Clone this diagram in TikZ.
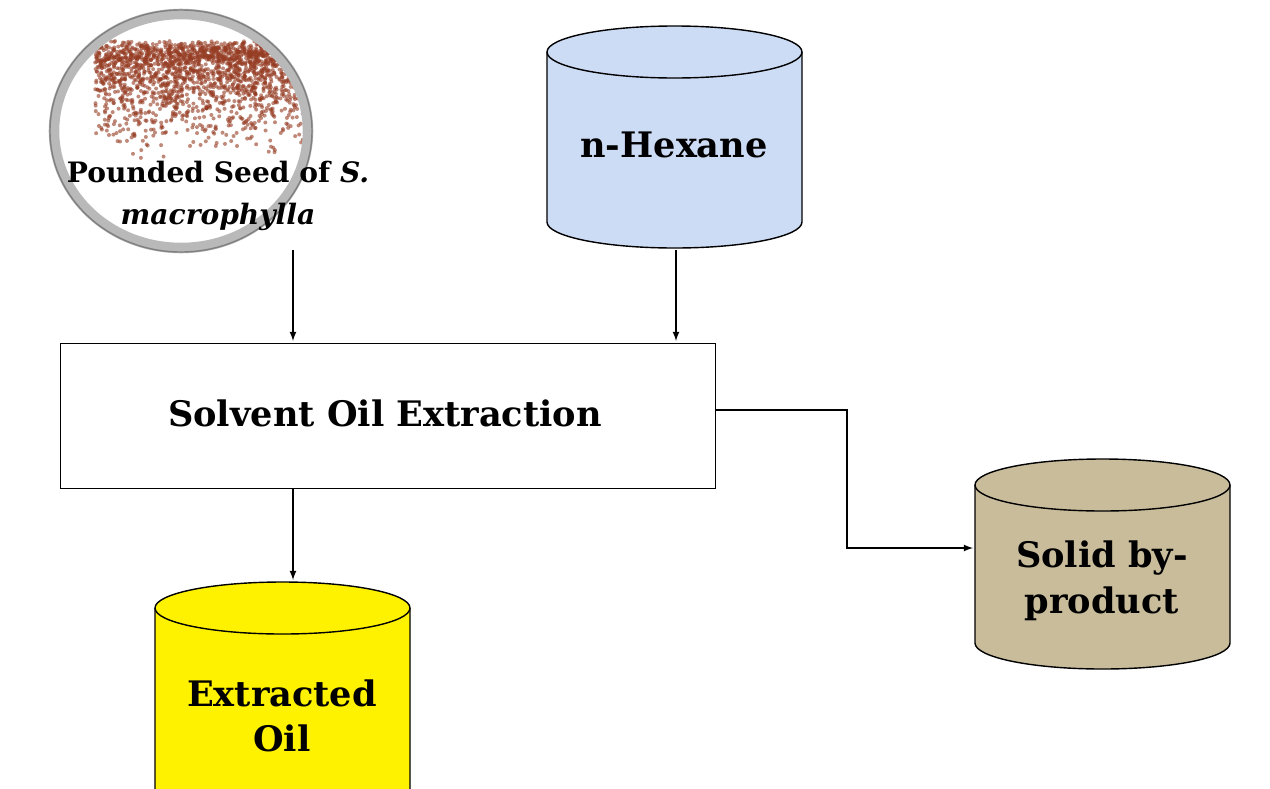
\documentclass[tikz,border=0pt]{standalone}
\usepackage{fontspec}
\setmainfont{DejaVu Serif}
\definecolor{hexc}{RGB}{205,220,245}
\definecolor{solc}{RGB}{200,188,155}
\definecolor{seedc}{RGB}{150,60,35}
\begin{document}
\begin{tikzpicture}[x=0.02cm,y=-0.02cm,
  lbl/.style={font=\fontsize{20}{26}\selectfont\bfseries,align=center,text=black},
  arr/.style={-latex,thick}]
\useasboundingbox (0,0) rectangle (1270,788);
% seed circle
\begin{scope}
\clip (181,131) ellipse [x radius=123,y radius=113];
\fill[white] (181,131) ellipse [x radius=123,y radius=113];
\pgfmathsetseed{7}
\foreach \i in {1,...,3000}{
  \pgfmathsetmacro\px{95+305*rnd}
  \pgfmathsetmacro\py{40+110*rnd*rnd+15*rnd}
  \fill[seedc,opacity=0.6] (\px,\py) circle [radius=2];
}
\end{scope}
\draw[line width=6pt,gray!55] (181,131) ellipse [x radius=127,y radius=117];
\draw[gray,thick] (181,131) ellipse [x radius=131,y radius=121];
\node[lbl,font=\fontsize{16}{24}\selectfont\bfseries] (seed) at (218,196) {Pounded Seed of \textit{S.}\\ \textit{macrophylla}};
\coordinate (seedb) at (293,250);
% hexane
\fill[hexc,draw=black,thick] (547,52) -- (547,222) arc[start angle=180,end angle=0,x radius=127.5,y radius=26] -- (802,52) arc[start angle=0,end angle=-180,x radius=127.5,y radius=26];
\draw[thick] (547,52) arc[start angle=180,end angle=0,x radius=127.5,y radius=26];
\node[lbl] (hex) at (674,145) {n-Hexane};
\coordinate (hexb) at (676,250);
% box
\node[draw,thick,minimum width=13.1cm,minimum height=2.9cm,anchor=north west] (box) at (60,343) {};
\node[lbl] at (385,413) {Solvent Oil Extraction};
\draw[arr] (seedb) -- (293,341);
\draw[arr] (hexb) -- (676,341);
% extracted oil
\fill[yellow,draw=black,thick] (155,608) -- (155,800) -- (410,800) -- (410,608) arc[start angle=0,end angle=-180,x radius=127.5,y radius=26];
\draw[thick] (155,608) arc[start angle=180,end angle=0,x radius=127.5,y radius=26];
\node[lbl] (oil) at (282,716) {Extracted\\Oil};
\draw[arr] (293,488) -- (293,580);
% by-product
\fill[solc,draw=black,thick] (975,485) -- (975,643) arc[start angle=180,end angle=0,x radius=127.5,y radius=26] -- (1230,485) arc[start angle=0,end angle=-180,x radius=127.5,y radius=26];
\draw[thick] (975,485) arc[start angle=180,end angle=0,x radius=127.5,y radius=26];
\node[lbl] (sol) at (1102,581) {Solid by-\\product};
\draw[arr] (715,410) -- (847,410) -- (847,548) -- (973,548);
\end{tikzpicture}
\end{document}
